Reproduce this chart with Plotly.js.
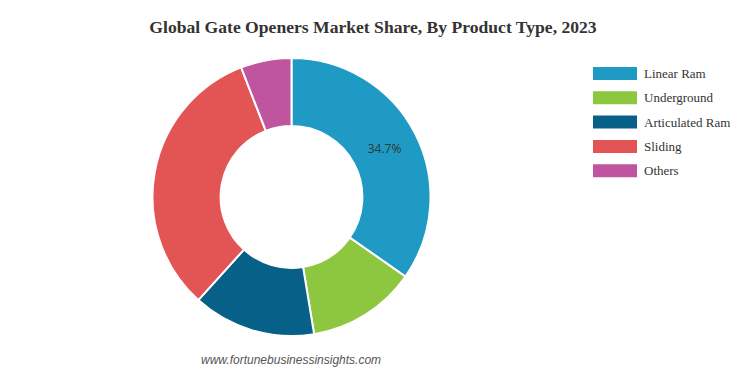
<!DOCTYPE html>
<html>
<head>
<meta charset="utf-8">
<script src="https://cdn.plot.ly/plotly-3.0.1.min.js"></script>
<style>html,body{margin:0;padding:0;background:#fff;}#chart{width:745px;height:372px;}</style>
</head>
<body>
<div id="chart"></div>
<script>
const categories = ["Linear Ram", "Underground", "Articulated Ram", "Sliding", "Others"];
const shares = [34.7, 12.7, 14.3, 32.4, 5.9];
const colors = ["#1E9AC4", "#8DC63F", "#066087", "#E35555", "#BE559E"];
const shownLabels = ["%{value:.1f}%", "", "", "", ""];

const W = 745, H = 372;
const cx = 291.5, cy = 197, r = 139;

const trace = {
  type: "pie",
  labels: categories,
  values: shares,
  sort: false,
  direction: "clockwise",
  rotation: 0,
  hole: 0.51,
  marker: {colors: colors, line: {color: "#ffffff", width: 2}},
  texttemplate: shownLabels,
  textposition: "inside",
  insidetextorientation: "horizontal",
  textfont: {family: "Open Sans, Arial, sans-serif", size: 12, color: "#333333"},
  domain: {x: [(cx - r) / W, (cx + r) / W], y: [1 - (cy + r) / H, 1 - (cy - r) / H]},
  showlegend: false,
  hoverinfo: "label+percent"
};

const shapes = [];
const annotations = [];
const legX0 = 593, legX1 = 637, legY0 = 73.5, legStep = 24.3, legH = 13;
categories.forEach((c, i) => {
  const yc = legY0 + i * legStep;
  shapes.push({type: "rect", xref: "paper", yref: "paper",
    x0: legX0 / W, x1: legX1 / W, y0: 1 - (yc + legH / 2) / H, y1: 1 - (yc - legH / 2) / H,
    fillcolor: colors[i], line: {width: 0}});
  annotations.push({xref: "paper", yref: "paper", x: 642 / W, y: 1 - yc / H,
    xanchor: "left", yanchor: "middle", showarrow: false, text: c,
    font: {family: "Liberation Serif, Times New Roman, serif", size: 13, color: "#333333"}});
});
annotations.push({xref: "paper", yref: "paper", x: 291 / W, y: 1 - 360 / H,
  xanchor: "center", yanchor: "middle", showarrow: false,
  text: "<i>www.fortunebusinessinsights.com</i>",
  font: {family: "Liberation Sans, Arial, sans-serif", size: 12, color: "#555555"}});

const layout = {
  width: W, height: H,
  margin: {l: 0, r: 0, t: 0, b: 0},
  paper_bgcolor: "#ffffff",
  title: {text: "<b>Global Gate Openers Market Share, By Product Type, 2023</b>",
    x: 373 / W, xanchor: "center", y: 1 - 27 / H, yanchor: "middle",
    font: {family: "Liberation Serif, Times New Roman, serif", size: 17.6, color: "#333333"}},
  shapes: shapes,
  annotations: annotations,
  showlegend: false
};

Plotly.newPlot("chart", [trace], layout, {displayModeBar: false, staticPlot: true});
</script>
</body>
</html>
